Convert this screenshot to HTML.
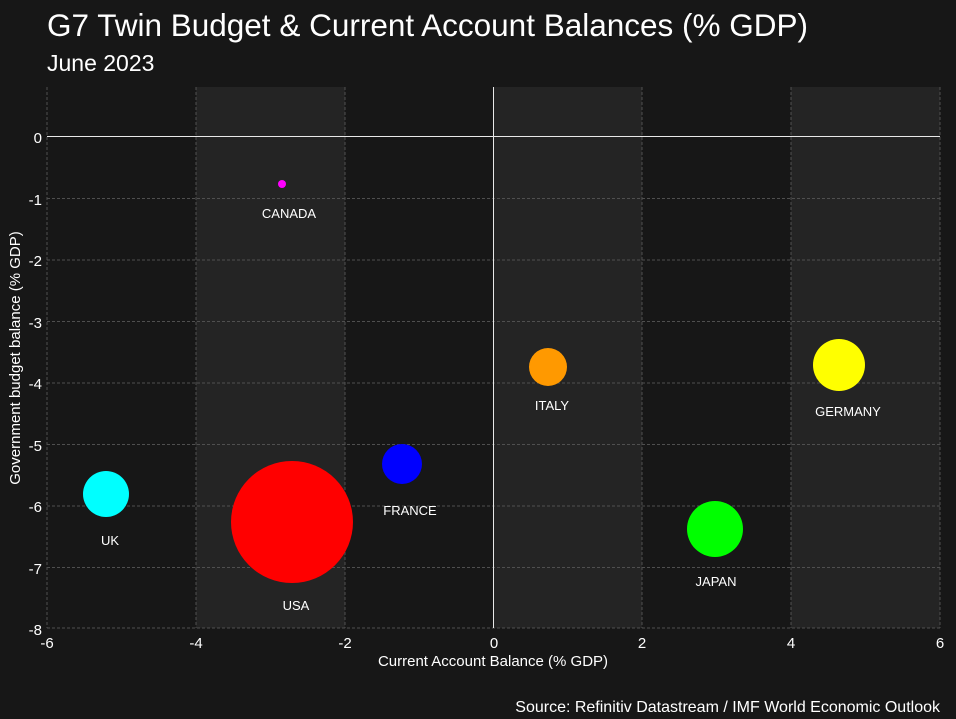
<!DOCTYPE html>
<html><head><style>
html,body{margin:0;padding:0;background:#171717;}
svg{display:block;font-family:"Liberation Sans",Arial,sans-serif;}
</style></head><body>
<svg width="956" height="719" xmlns="http://www.w3.org/2000/svg">
<rect width="956" height="719" fill="#171717"/>
<text x="47" y="36" fill="#fff" font-size="31.5">G7 Twin Budget &amp; Current Account Balances (% GDP)</text>
<text x="47" y="71" fill="#fff" font-size="23">June 2023</text>
<rect x="196" y="87" width="149" height="541" fill="#242424"/>
<rect x="494" y="87" width="148" height="541" fill="#242424"/>
<rect x="791" y="87" width="149" height="541" fill="#242424"/>
<g stroke="#4f4f4f" stroke-width="1" stroke-dasharray="3,2">
<line x1="47" y1="87" x2="47" y2="628"/>
<line x1="196" y1="87" x2="196" y2="628"/>
<line x1="345" y1="87" x2="345" y2="628"/>
<line x1="642" y1="87" x2="642" y2="628"/>
<line x1="791" y1="87" x2="791" y2="628"/>
<line x1="940" y1="87" x2="940" y2="628"/>
<line x1="47" y1="198.5" x2="940" y2="198.5"/>
<line x1="47" y1="260" x2="940" y2="260"/>
<line x1="47" y1="321.5" x2="940" y2="321.5"/>
<line x1="47" y1="383" x2="940" y2="383"/>
<line x1="47" y1="444.5" x2="940" y2="444.5"/>
<line x1="47" y1="506" x2="940" y2="506"/>
<line x1="47" y1="567.5" x2="940" y2="567.5"/>
<line x1="47" y1="628" x2="940" y2="628"/>
</g>
<line x1="47" y1="136.5" x2="940" y2="136.5" stroke="#e8e8e8" stroke-width="1"/>
<line x1="493.5" y1="87" x2="493.5" y2="628" stroke="#e8e8e8" stroke-width="1"/>
<g fill="#fff" font-size="15" text-anchor="end">
<text x="42" y="143">0</text>
<text x="42" y="205">-1</text>
<text x="42" y="266">-2</text>
<text x="42" y="328">-3</text>
<text x="42" y="389">-4</text>
<text x="42" y="451">-5</text>
<text x="42" y="512">-6</text>
<text x="42" y="574">-7</text>
<text x="42" y="635">-8</text>
</g>
<g fill="#fff" font-size="15" text-anchor="middle">
<text x="47" y="648">-6</text>
<text x="196" y="648">-4</text>
<text x="345" y="648">-2</text>
<text x="494" y="648">0</text>
<text x="642" y="648">2</text>
<text x="791" y="648">4</text>
<text x="940" y="648">6</text>
</g>
<text x="493" y="666" fill="#fff" font-size="15" text-anchor="middle">Current Account Balance (% GDP)</text>
<text transform="translate(20,358) rotate(-90)" fill="#fff" font-size="15" text-anchor="middle">Government budget balance (% GDP)</text>
<circle cx="282" cy="184" r="4" fill="#ff00ff"/>
<circle cx="106" cy="494" r="23" fill="#00ffff"/>
<circle cx="292" cy="522" r="61" fill="#ff0000"/>
<circle cx="402" cy="464" r="20" fill="#0000ff"/>
<circle cx="548" cy="367" r="19" fill="#ff9900"/>
<circle cx="839" cy="365" r="26" fill="#ffff00"/>
<circle cx="715" cy="529" r="28" fill="#00ff00"/>
<g fill="#fff" font-size="13" text-anchor="middle">
<text x="289" y="218">CANADA</text>
<text x="110" y="545">UK</text>
<text x="296" y="610">USA</text>
<text x="410" y="515">FRANCE</text>
<text x="552" y="410">ITALY</text>
<text x="848" y="416">GERMANY</text>
<text x="716" y="586">JAPAN</text>
</g>
<text x="940" y="712" fill="#fff" font-size="16" text-anchor="end">Source: Refinitiv Datastream / IMF World Economic Outlook</text>
</svg>
</body></html>
